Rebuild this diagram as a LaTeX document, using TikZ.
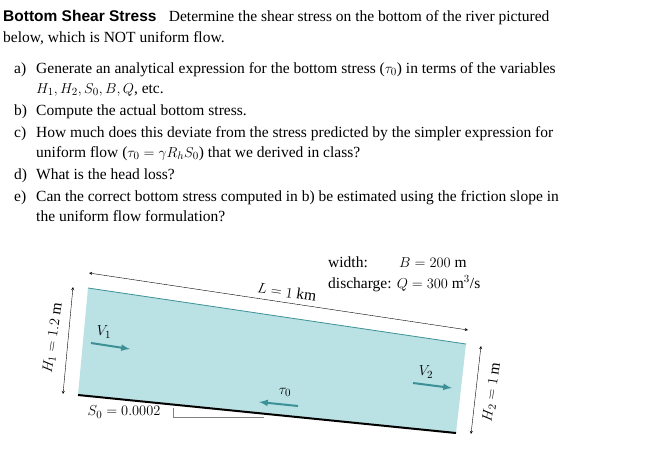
\documentclass[tikz,border=0pt]{standalone}
\usepackage{fontspec}
\setmainfont{Liberation Serif}
\newfontfamily\titlefont{Liberation Sans}
\definecolor{teal1}{RGB}{60,145,150}
\definecolor{water}{RGB}{186,225,228}
\begin{document}
\begin{tikzpicture}[x=1pt,y=-1pt,
  txt/.style={anchor=base west,inner sep=0pt,font=\fontsize{15.5}{18}\selectfont},
  lbl/.style={inner sep=0pt,font=\fontsize{15.5}{18}\selectfont},
  dim/.style={<->,>=stealth,thin},
  flow/.style={->,>=latex,draw=teal1,line width=2pt}]
\useasboundingbox (0,0) rectangle (648,453);
\node[txt] (t1) at (3,21) {{\titlefont\bfseries Bottom Shear Stress}\hspace{0.8em}Determine the shear stress on the bottom of the river pictured};
\node[txt] (t2) at (3,42) {below, which is NOT uniform flow.};
\node[txt] (la) at (14,73) {a)};
\node[txt] (a1) at (36,73) {Generate an analytical expression for the bottom stress ($\tau_0$) in terms of the variables};
\node[txt] (a2) at (36,93) {$H_1, H_2, S_0, B, Q$, etc.};
\node[txt] (lb) at (14,115) {b)};
\node[txt] (b1) at (36,115) {Compute the actual bottom stress.};
\node[txt] (lc) at (14,137) {c)};
\node[txt] (c1) at (36,137) {How much does this deviate from the stress predicted by the simpler expression for};
\node[txt] (c2) at (36,157) {uniform flow ($\tau_0=\gamma R_h S_0$) that we derived in class?};
\node[txt] (ld) at (14,179) {d)};
\node[txt] (d1) at (36,179) {What is the head loss?};
\node[txt] (le) at (14,201) {e)};
\node[txt] (e1) at (36,201) {Can the correct bottom stress computed in b) be estimated using the friction slope in};
\node[txt] (e2) at (36,221) {the uniform flow formulation?};
% water
\coordinate (tl) at (88,288);
\coordinate (tr) at (466,344);
\coordinate (br) at (456,433);
\coordinate (bl) at (78,395);
\fill[water] (tl)--(tr)--(br)--(bl)--cycle;
\draw[teal1,thick] (tl)--(tr);
\draw[line width=2pt] (bl)--(br);
% dims
\coordinate (la1) at (89,273); \coordinate (la2) at (468,330);
\draw[dim] (la1)--(la2);
\coordinate (h1a) at (73,287); \coordinate (h1b) at (63,394);
\draw[dim] (h1a)--(h1b);
\coordinate (h2a) at (481,346); \coordinate (h2b) at (471,434);
\draw[dim] (h2a)--(h2b);
\coordinate (s1) at (173,408); \coordinate (s2) at (173,417); \coordinate (s3) at (264,417);
\draw[gray] (s1)--(s2)--(s3);
% flows
\coordinate (v1a) at (91,343); \coordinate (v1b) at (130,349);
\draw[flow] (v1a)--(v1b);
\coordinate (v2a) at (413,383); \coordinate (v2b) at (452,388);
\draw[flow] (v2a)--(v2b);
\coordinate (ta) at (298,406); \coordinate (tb) at (259,402);
\draw[flow] (ta)--(tb);
% labels
\node[lbl,rotate=-8.5] (L) at (287,292) {$L=1$ km};
\node[txt] (w) at (328,267) {width:};
\node[txt] (B) at (399,267) {$B=200$ m};
\node[txt] (q) at (328,288) {discharge: $Q=300$ m$^3$/s};
\node[lbl,rotate=81.5] (H1) at (53,338) {$H_1=1.2$ m};
\node[lbl,rotate=81.5] (H2) at (492,392) {$H_2=1$ m};
\node[lbl] (V1) at (104,332) {$V_1$};
\node[lbl] (V2) at (426,372) {$V_2$};
\node[lbl] (tau) at (285,392) {$\tau_0$};
\node[lbl] (S0) at (124,412) {$S_0=0.0002$};
\end{tikzpicture}
\end{document}
